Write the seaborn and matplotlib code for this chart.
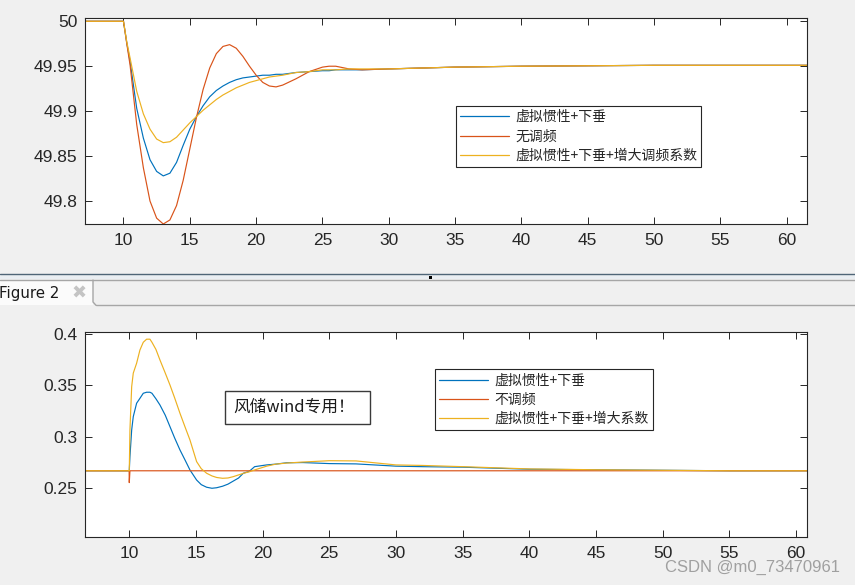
# -*- coding: utf-8 -*-
"""
Frequency response of wind-storage system: two stacked MATLAB-style figures
"""

import numpy as np
import pandas as pd
import matplotlib
matplotlib.use('Agg')
import matplotlib.pyplot as plt
from matplotlib.patches import Rectangle
from matplotlib.lines import Line2D
import seaborn as sns

# ---- data: Figure 1, grid frequency (Hz) ----
t_freq = [0, 10, 10.25, 10.5, 11, 11.5, 12, 12.5, 13, 13.5, 14, 14.5, 15, 15.5,
          16, 16.5, 17, 17.5, 18, 18.5, 19, 19.5, 20, 20.5, 21, 21.5, 22, 23,
          24, 25, 25.5, 26, 27, 28, 30, 35, 40, 45, 50, 55, 62]
f_inertia_droop = [50, 50, 49.976, 49.955, 49.903, 49.870, 49.846, 49.833, 49.828,
                   49.831, 49.843, 49.862, 49.880, 49.894, 49.906, 49.916, 49.923,
                   49.928, 49.932, 49.935, 49.937, 49.938, 49.939, 49.940, 49.940,
                   49.941, 49.941, 49.943, 49.944, 49.945, 49.945, 49.946, 49.946,
                   49.946, 49.947, 49.949, 49.950, 49.9505, 49.951, 49.951, 49.951]
f_no_reg = [50, 50, 49.975, 49.951, 49.885, 49.837, 49.800, 49.781, 49.7745,
            49.779, 49.795, 49.823, 49.858, 49.893, 49.924, 49.948, 49.964,
            49.972, 49.974, 49.970, 49.961, 49.950, 49.940, 49.932, 49.928,
            49.927, 49.929, 49.936, 49.944, 49.949, 49.950, 49.950, 49.947,
            49.946, 49.947, 49.949, 49.950, 49.9505, 49.951, 49.951, 49.951]
f_inertia_droop_big = [50, 50, 49.977, 49.959, 49.922, 49.897, 49.880, 49.869, 49.865,
                       49.866, 49.871, 49.879, 49.887, 49.894, 49.901, 49.907, 49.913,
                       49.918, 49.922, 49.926, 49.929, 49.932, 49.934, 49.936, 49.938,
                       49.939, 49.940, 49.943, 49.944, 49.946, 49.946, 49.946, 49.947,
                       49.947, 49.947, 49.949, 49.950, 49.9505, 49.951, 49.951, 49.951]
labels_freq = ['虚拟惯性+下垂', '无调频', '虚拟惯性+下垂+增大调频系数']

# ---- data: Figure 2, wind-storage output ----
t_pow = [0, 9.99, 10, 10.05, 10.18, 10.3, 10.55, 10.8, 11.05, 11.3, 11.55, 11.7,
         12, 12.3, 12.7, 13.05, 13.4, 13.8, 14.2, 14.55, 15.05, 15.4, 15.8, 16.2,
         16.55, 17, 17.4, 17.8, 18.2, 18.55, 19, 19.4, 20.3, 21, 21.8, 23, 25, 27,
         30, 32, 35, 40, 45, 50, 55, 62]
p_inertia_droop = [0.267, 0.267, 0.267, 0.2807, 0.3067, 0.3197, 0.3327, 0.3375,
                   0.3424, 0.3434, 0.3434, 0.3424, 0.337, 0.331, 0.321, 0.310,
                   0.299, 0.2873, 0.277, 0.2678, 0.258, 0.2535, 0.251, 0.250,
                   0.2505, 0.252, 0.254, 0.257, 0.260, 0.2646, 0.2665, 0.271,
                   0.2727, 0.2735, 0.2748, 0.275, 0.274, 0.2737, 0.2715, 0.271,
                   0.2705, 0.2685, 0.268, 0.2675, 0.267, 0.267]
p_no_reg = [0.267, 0.267, 0.2555, 0.267, 0.267, 0.267, 0.267, 0.267, 0.267, 0.267,
            0.267, 0.267, 0.267, 0.267, 0.267, 0.267, 0.267, 0.267, 0.267, 0.267,
            0.267, 0.267, 0.267, 0.267, 0.267, 0.267, 0.267, 0.267, 0.267, 0.267,
            0.267, 0.267, 0.267, 0.267, 0.267, 0.267, 0.267, 0.267, 0.267, 0.267,
            0.267, 0.267, 0.267, 0.267, 0.267, 0.267]
p_inertia_droop_big = [0.267, 0.267, 0.267, 0.3067, 0.3488, 0.362, 0.3716, 0.3845,
                       0.392, 0.395, 0.395, 0.392, 0.385, 0.3748, 0.362, 0.3505,
                       0.338, 0.323, 0.309, 0.297, 0.2759, 0.269, 0.2646, 0.262,
                       0.2605, 0.2597, 0.260, 0.2613, 0.263, 0.2645, 0.266, 0.2678,
                       0.2715, 0.2735, 0.2745, 0.2755, 0.2768, 0.2766, 0.2727, 0.2722,
                       0.271, 0.2688, 0.268, 0.2675, 0.267, 0.267]
labels_pow = ['虚拟惯性+下垂', '不调频', '虚拟惯性+下垂+增大系数']

xticks = [10, 15, 20, 25, 30, 35, 40, 45, 50, 55, 60]
yticks_freq = [49.8, 49.85, 49.9, 49.95, 50]
yticklabels_freq = ['49.8', '49.85', '49.9', '49.95', '50']
yticks_pow = [0.25, 0.3, 0.35, 0.4]
yticklabels_pow = ['0.25', '0.3', '0.35', '0.4']
note_text = '风储wind专用！'
watermark = 'CSDN @m0_73470961'

# MATLAB default colour order
colors = ['#0072BD', '#D95319', '#EDB120']

sns.set_theme(style='ticks')
plt.rcParams['font.family'] = ['Liberation Sans', 'DejaVu Sans']
plt.rcParams['axes.unicode_minus'] = False

W, H = 855, 585
CJK = ['Noto Sans CJK SC', 'DejaVu Sans']


def fx(px):
    return px / W


def fy(py):
    return 1 - py / H


def long_frame(t, series, labels):
    parts = []
    for vals, lab in zip(series, labels):
        parts.append(pd.DataFrame({'t': t, 'v': vals, 'series': lab}))
    return pd.concat(parts, ignore_index=True)


def style_axes(ax, xlim, ylim, yticks, yticklabels, xpad):
    ax.set_facecolor('white')
    ax.set_xlim(*xlim)
    ax.set_ylim(*ylim)
    ax.set_xticks(xticks)
    ax.set_xticklabels([str(v) for v in xticks])
    ax.set_yticks(yticks)
    ax.set_yticklabels(yticklabels)
    ax.set_xlabel('')
    ax.set_ylabel('')
    ax.tick_params(direction='in', length=5, width=0.7, top=True, right=True,
                   colors='#262626', labelsize=12.5)
    ax.tick_params(axis='x', pad=xpad)
    ax.tick_params(axis='y', pad=5.5)
    for sp in ax.spines.values():
        sp.set_visible(True)
        sp.set_color('#262626')
        sp.set_linewidth(0.8)


def add_legend(ax, fig, x0, y0):
    handles, labs = ax.get_legend_handles_labels()
    leg = ax.legend(handles, labs, loc='upper left',
                    bbox_to_anchor=(fx(x0), fy(y0)), bbox_transform=fig.transFigure,
                    borderaxespad=0, borderpad=0.3, handlelength=3.5,
                    handletextpad=0.45, labelspacing=0.38, fancybox=False,
                    framealpha=1, edgecolor='#262626', prop={'family': CJK, 'size': 10})
    leg.get_frame().set_linewidth(0.8)
    for h in leg.get_lines():
        h.set_linewidth(0.9)


fig = plt.figure(figsize=(W / 100, H / 100), dpi=100, facecolor='#f0f0f0')

# ---- top figure ----
ax1 = fig.add_axes([fx(85), fy(224), fx(806.7) - fx(85), fy(18.3) - fy(224)])
df1 = long_frame(t_freq, [f_inertia_droop, f_no_reg, f_inertia_droop_big], labels_freq)
sns.lineplot(data=df1, x='t', y='v', hue='series', hue_order=labels_freq,
             palette=colors, estimator=None, linewidth=0.85, ax=ax1)
style_axes(ax1, (7.1, 61.5), (49.7745, 50.0033), yticks_freq, yticklabels_freq, 6.5)
add_legend(ax1, fig, 456, 106)

# ---- bottom figure ----
ax2 = fig.add_axes([fx(85), fy(537.3), fx(806.7) - fx(85), fy(332.3) - fy(537.3)])
df2 = long_frame(t_pow, [p_inertia_droop, p_no_reg, p_inertia_droop_big], labels_pow)
sns.lineplot(data=df2, x='t', y='v', hue='series', hue_order=labels_pow,
             palette=colors, estimator=None, linewidth=0.85, ax=ax2)
style_axes(ax2, (6.68, 60.8), (0.2023, 0.4017), yticks_pow, yticklabels_pow, 6.5)
add_legend(ax2, fig, 435.3, 369.3)

# annotation box
ax2.add_patch(Rectangle((fx(225), fy(424)), fx(370) - fx(225), fy(390.7) - fy(424),
                        transform=fig.transFigure, facecolor='white',
                        edgecolor='#3a3a3a', linewidth=1.0, clip_on=False, zorder=6))
fig.text(fx(233), fy(407.5), note_text, family=CJK, fontsize=12, color='#1a1a1a',
         va='center', ha='left', zorder=7)

# ---- window chrome between the two figures ----
fig.add_artist(Line2D([0, 1], [fy(274.3)] * 2, color='#4f6577', linewidth=1.0))
fig.add_artist(Rectangle((0, fy(279)), 1, fy(275) - fy(279), facecolor='#eaeef2',
                         edgecolor='none'))
fig.add_artist(Line2D([0, 1], [fy(279.5)] * 2, color='#a6a6a6', linewidth=1.0))
fig.add_artist(Rectangle((0, fy(305)), fx(93), fy(280) - fy(305), facecolor='#fbfbfb',
                         edgecolor='none'))
fig.add_artist(Line2D([fx(93), fx(93), fx(96)], [fy(280), fy(302), fy(305.3)],
                      color='#a6a6a6', linewidth=1.0))
fig.add_artist(Line2D([fx(96), 1], [fy(305.3)] * 2, color='#a6a6a6', linewidth=1.0))
fig.add_artist(Rectangle((fx(429), fy(278.5)), fx(3), fy(276) - fy(278.5),
                         facecolor='black', edgecolor='none'))
fig.text(fx(-1), fy(293.5), 'Figure 2', family='DejaVu Sans', fontsize=10.8,
         color='#1a1a1a', va='center', ha='left')
fig.text(fx(79), fy(293.5), '✖', family='DejaVu Sans', fontsize=13,
         color='#c4c4c4', va='center', ha='center')

# watermark
fig.text(fx(665), fy(567), watermark, fontsize=12, color='#a0a0a0',
         va='center', ha='left')

fig.savefig('out.png', dpi=100, facecolor=fig.get_facecolor())
